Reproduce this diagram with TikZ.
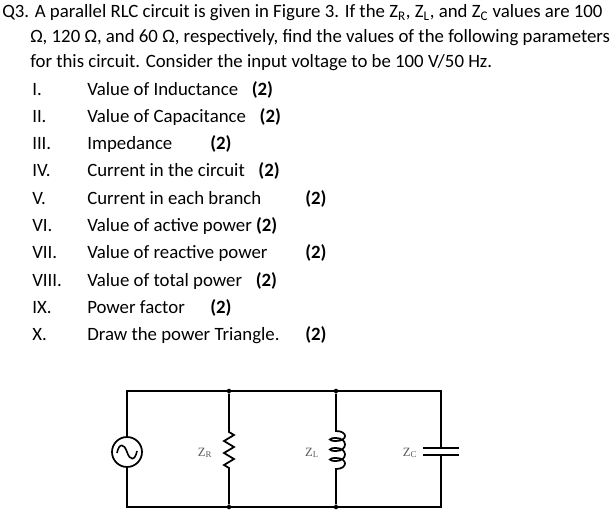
\documentclass[tikz,border=0pt]{standalone}
\usepackage{fontspec}
\setmainfont{Carlito}
\newfontfamily\lbl{Liberation Serif}
\begin{document}
\begin{tikzpicture}[x=0.75pt,y=-0.75pt,
  txt/.style={anchor=base west,inner sep=0pt,font=\fontsize{14.1}{16}\selectfont},
  wire/.style={line width=1.3pt},
  dot/.style={circle,fill=black,inner sep=1.2pt},
  zl/.style={font=\lbl\fontsize{9.5}{10}\selectfont,text=black!65,inner sep=0pt}]
\useasboundingbox (0,0) rectangle (611,516);
\node[txt] (l1) at (2,18) {Q3. A parallel RLC circuit is given in Figure 3. If the Z\textsubscript{R}, Z\textsubscript{L}, and Z\textsubscript{C} values are 100};
\node[txt] (l2) at (30,43) {Ω, 120 Ω, and 60 Ω, respectively, find the values of the following parameters};
\node[txt] (l3) at (30,68) {for this circuit. Consider the input voltage to be 100 V/50 Hz.};
\foreach \r/\t/\yy in {I./Value of Inductance \enspace \textbf{(2)}/96,
  II./Value of Capacitance \enspace \textbf{(2)}/123,
  III./Impedance/150, IV./Current in the circuit \enspace \textbf{(2)}/177,
  V./Current in each branch/205, VI./Value of active power \textbf{(2)}/232,
  VII./Value of reactive power/259, VIII./Value of total power \enspace \textbf{(2)}/287,
  IX./Power factor/314, X./Draw the power Triangle./341}{
  \node[txt] at (32,\yy) {\r};
  \node[txt] at (87,\yy) {\t};
}
\node[txt] at (210,150) {\textbf{(2)}};
\node[txt] at (210,314) {\textbf{(2)}};
\node[txt] at (305,205) {\textbf{(2)}};
\node[txt] at (305,259) {\textbf{(2)}};
\node[txt] at (305,341) {\textbf{(2)}};
% circuit
\coordinate (tl) at (127,391); \coordinate (bl) at (127,507);
\coordinate (tr) at (441,391); \coordinate (br) at (441,507);
\node[dot] (tR) at (229,391) {}; \node[dot] (bR) at (229,507) {};
\node[dot] (tL) at (336,391) {}; \node[dot] (bL) at (336,507) {};
\node[circle,draw,line width=1.3pt,minimum size=30pt*0.75,inner sep=0pt] (src) at (127,452) {};
\draw[wire] (src.north) -- (tl) -- (tr) -- (441,448);
\draw[wire] (src.south) -- (bl) -- (br) -- (441,455);
\draw[line width=1.2pt] (117,453) .. controls (119,443) and (124,443) .. (127,452) .. controls (130,461) and (135,461) .. (137,451);
\draw[wire] (423,448) -- (459,448); \draw[wire] (423,455) -- (459,455);
% resistor
\draw[wire] (tR) -- (229,432) -- (234,435) -- (224,441) -- (234,447) -- (224,453) -- (234,459) -- (224,465) -- (229,468) -- (bR);
% inductor
\draw[wire] (tL) -- (336,431) .. controls (348,431) and (348,441) .. (336,441)
  .. controls (328,441) and (328,438) .. (336,438) .. controls (348,438) and (348,451) .. (336,451)
  .. controls (328,451) and (328,448) .. (336,448) .. controls (348,448) and (348,461) .. (336,461)
  .. controls (328,461) and (328,458) .. (336,458) .. controls (348,458) and (348,469) .. (336,469) -- (bL);
\node[zl] (zR) at (205,453) {Z\textsubscript{R}};
\node[zl] (zL) at (312,453) {Z\textsubscript{L}};
\node[zl] (zC) at (410,453) {Z\textsubscript{C}};
\end{tikzpicture}
\end{document}
